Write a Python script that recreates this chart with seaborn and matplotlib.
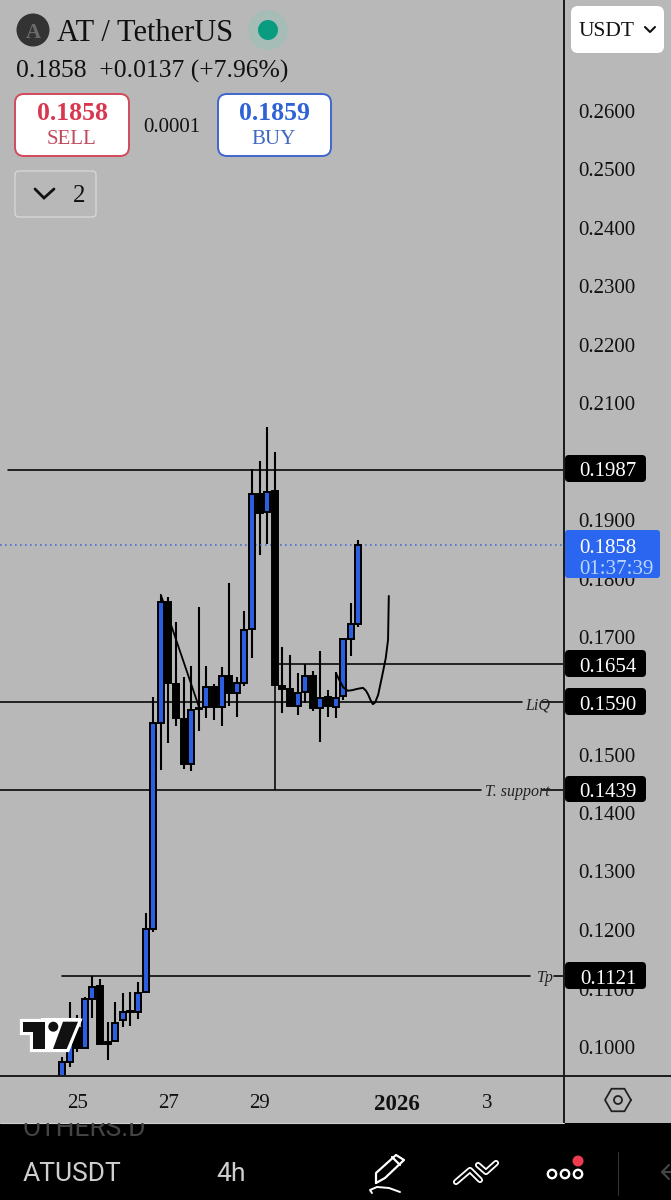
import numpy as np
import pandas as pd
import seaborn as sns
import matplotlib.pyplot as plt
from matplotlib.patches import FancyBboxPatch, Circle, Polygon, Rectangle

# 4h candles
opens = [.0940, .0974, .1032, .0998, .1082, .1104, .1009, .1010, .1046, .1060,
         .1060, .1094, .1202, .1554, .1761, .1621, .1561, .1484, .1579, .1581,
         .1615, .1581, .1634, .1605, .1622, .1715, .1945, .1915, .1950, .1617,
         .1612, .1583, .1607, .1634, .1579, .1598, .1581, .1600, .1697, .1723]
closes = [.0974, .1029, .0998, .1082, .1103, .1005, .1005, .1041, .1060, .1062,
          .1092, .1202, .1554, .1761, .1622, .1562, .1484, .1576, .1578, .1615,
          .1581, .1634, .1605, .1622, .1713, .1945, .1913, .1949, .1619, .1612,
          .1583, .1605, .1634, .1579, .1597, .1583, .1597, .1697, .1723, .1858]
highs = [.0983, .1077, .1055, .1085, .1121, .1116, .1043, .1077, .1092, .1094,
         .1111, .1229, .1598, .1773, .1769, .1726, .1632, .1651, .1752, .1651,
         .1621, .1650, .1793, .1632, .1745, .1988, .2002, .2060, .2017, .1684,
         .1670, .1639, .1655, .1643, .1677, .1610, .1641, .1697, .1759, .1867]
lows = [.0925, .0966, .0991, .0998, .1050, .1005, .0978, .1010, .1034, .1036,
        .1048, .1094, .1197, .1474, .1520, .1549, .1475, .1472, .1540, .1562,
        .1559, .1549, .1583, .1564, .1617, .1665, .1841, .1860, .1619, .1571,
        .1583, .1568, .1588, .1574, .1521, .1564, .1562, .1593, .1668, .1718]

# 0.1600 and 0.2000 sit behind the price labels, so the chart doesn't show them
price_ticks = [.10, .11, .12, .13, .14, .15, .17, .18, .19, .21, .22, .23, .24, .25, .26]
date_ticks = [2, 14, 26, 44, 56]
date_labels = ['25', '27', '29', '2026', '3']

# hand drawn lines on the chart
trend_x = [13.0, 18.0]
trend_y = [.1773, .1582]
curve_x = [36.05, 36.5, 37, 37.6, 38.2, 38.8, 39.6, 40.0, 40.3, 40.6, 40.9, 41.2, 41.6, 42.2, 42.6, 42.9, 43.0]
curve_y = [.1639, .1627, .1615, .1609, .1610, .1612, .1614, .1609, .1602, .1593, .1586, .1589, .1602, .1639, .1665, .1696, .1771]

BG = '#b8b8b8'
BLUE = '#2b5fe0'
SERIF = ['Liberation Serif', 'DejaVu Serif']

sns.set_theme(style='white', rc={'axes.facecolor': BG, 'figure.facecolor': BG})
plt.rcParams['font.family'] = SERIF

W, H = 671, 1200
fig = plt.figure(figsize=(W / 100, H / 100), dpi=100)
ax = fig.add_axes([0, (H - 1076) / H, 564 / W, 1076 / H])

df = pd.DataFrame({'bar': np.arange(len(opens)), 'open': opens, 'close': closes, 'high': highs, 'low': lows})
df['height'] = (df['close'] - df['open']).abs()
df['bottom'] = df[['open', 'close']].min(axis=1)
up = df[df['close'] >= df['open']]
down = df[df['close'] < df['open']]

ax.vlines(df['bar'], df['low'], df['high'], color='black', lw=1.5, zorder=1)
sns.barplot(data=up, x='bar', y='height', bottom=up['bottom'].values, native_scale=True, errorbar=None,
            color=BLUE, saturation=1, width=0.78, edgecolor='black', linewidth=1.4, zorder=3, ax=ax)
sns.barplot(data=down, x='bar', y='height', bottom=down['bottom'].values, native_scale=True, errorbar=None,
            color='black', saturation=1, width=0.78, edgecolor='black', linewidth=1.4, zorder=3, ax=ax)


def level(x0, x1, price, **kw):
    sns.lineplot(x=[x0, x1], y=[price, price], color=kw.pop('color', 'black'), lw=kw.pop('lw', 1.15),
                 estimator=None, sort=False, zorder=2, ax=ax, **kw)


level(-7.1, 66.1, .1987)
level(28.4, 66.1, .1654)
level(-8.2, 60.5, .1590)
level(63.2, 66.1, .1590)
level(-8.2, 55.1, .1439)
level(63.2, 66.1, .1439)
level(0.0, 61.6, .1121)
level(64.8, 66.1, .1121)
ax.plot([-8.2, 66.1], [.1858, .1858], color='#4a6fd0', lw=1.2, ls=(0, (1, 2)), zorder=2)
ax.vlines(28, .1439, .1619, color='black', lw=1.15, zorder=2)
sns.lineplot(x=trend_x, y=trend_y, color='black', lw=1.3, estimator=None, sort=False, zorder=4, ax=ax)
sns.lineplot(x=curve_x, y=curve_y, color='black', lw=1.4, estimator=None, sort=False, zorder=4, ax=ax)

ax.set_xlim(-62 / 7.6, (564 - 62) / 7.6)
ax.set_ylim(.1 - 29 / 5850, .1 + 1047 / 5850)
ax.yaxis.tick_right()
ax.set_yticks(price_ticks, [f'{p:.4f}' for p in price_ticks])
ax.set_xticks(date_ticks, date_labels)
ax.tick_params(axis='y', length=0, pad=10.5, labelsize=15, labelcolor='#111111')
ax.tick_params(axis='x', length=0, pad=13, labelsize=15, labelcolor='#111111')
ax.get_xticklabels()[3].set_fontweight('bold')
ax.get_xticklabels()[3].set_fontsize(16.5)
ax.set_xlabel('')
ax.set_ylabel('')
sns.despine(ax=ax, left=True, bottom=True, top=True, right=True)

# overlay in pixels for the app chrome
ui = fig.add_axes([0, 0, 1, 1], facecolor='none', zorder=5)
ui.set_xlim(0, W)
ui.set_ylim(H, 0)
ui.axis('off')


def box(x0, y0, x1, y1, fc, ec='none', lw=0, r=4):
    p = FancyBboxPatch((x0 + r, y0 + r), x1 - x0 - 2 * r, y1 - y0 - 2 * r, boxstyle=f'round,pad={r},rounding_size={r}',
                       fc=fc, ec=ec, lw=lw)
    ui.add_patch(p)
    return p


def disc(x, y, r, fc, **kw):
    kw.setdefault('ec', 'none')
    ui.add_patch(Circle((x, y), r, fc=fc, **kw))


def txt(x, y, s, size, color='#111111', ha='center', **kw):
    return ui.text(x, y, s, fontsize=size, color=color, ha=ha, va='center_baseline', **kw)


ui.plot([0, W], [1076, 1076], color='#1a1a1a', lw=1.4)
ui.plot([564, 564], [0, 1123], color='#1a1a1a', lw=1.4)

# header
disc(33, 30, 16.5, '#333333')
txt(33, 30, 'A', 15, color='#6b6b6b', fontweight='bold')
txt(57, 30, 'AT / TetherUS', 22, ha='left')
disc(268, 30, 20, '#a6bcb7')
disc(268, 30, 10, '#0a9c80')
txt(16, 69, '0.1858  +0.0137 (+7.96%)', 18.45, ha='left')
box(15, 94, 129, 156, 'white', '#d24a5c', 1.4, r=9)
txt(72, 111, '0.1858', 18.5, color='#d8384f', fontweight='bold')
txt(72, 137, 'SELL', 15, color='#c04a5e')
txt(172, 125, '0.0001', 15)
box(218, 94, 331, 156, 'white', '#3f66cc', 1.4, r=9)
txt(274, 111, '0.1859', 18.5, color='#2f62d6', fontweight='bold')
txt(274, 137, 'BUY', 15, color='#3f66c0')
box(15, 171, 96, 217, BG, '#d6d6d6', 1.0, r=4)
ui.plot([35, 44, 54], [189, 198, 189], color='#111111', lw=2, solid_capstyle='round', solid_joinstyle='miter')
txt(79, 193, '2', 18)

# currency button
box(571, 6, 664, 53, 'white', r=7)
txt(607, 29, 'USDT', 15.5)
ui.plot([645, 650, 655], [27, 32, 27], color='#111111', lw=1.5)

# price labels
for y0, y1, s in [(455, 482, '0.1987'), (650, 677, '0.1654'), (688, 715, '0.1590'),
                  (776, 802, '0.1439'), (962, 989, '0.1121')]:
    box(565, y0, 646, y1, 'black', r=4)
    txt(608, (y0 + y1) / 2 + 1, s, 15, color='white')
box(565, 530, 660, 578, '#2b66f0', r=3)
txt(608, 546, '0.1858', 15, color='white')
txt(616, 567, '01:37:39', 15, color='#b9d6ff')

txt(538, 703, 'LiQ', 11.5, fontstyle='italic', color='#222222')
txt(517, 790, 'T. support', 11.5, fontstyle='italic', color='#222222')
txt(545, 976, 'Tp', 11.5, fontstyle='italic', color='#222222')

# logo
t_logo = [(22.7, 1021.7), (45, 1021.7), (45, 1049), (33.3, 1049), (33.3, 1031.7), (22.7, 1031.7)]
s_logo = [(63, 1021.7), (78, 1021.7), (66.7, 1049), (53, 1049)]
for pts in (t_logo, s_logo):
    ui.add_patch(Polygon(pts, fc='white', ec='white', lw=4.5, joinstyle='miter'))
ui.add_patch(Polygon([(41, 1018), (81, 1018), (69, 1052), (41, 1052)], fc='white', ec='none'))
for pts in (t_logo, s_logo):
    ui.add_patch(Polygon(pts, fc='#111111', ec='none'))
disc(53.3, 1026.7, 5, '#111111')

# settings hexagon
hx = 618 + 13 * np.cos(np.radians(np.arange(0, 361, 60)))
hy = 1100 + 13 * np.sin(np.radians(np.arange(0, 361, 60)))
ui.plot(hx, hy, color='#222222', lw=1.3)
disc(618, 1100, 4, 'none', ec='#222222', lw=1.3)

# bottom bar
bar_rect = Rectangle((0, 1123), W, 77, fc='black', ec='none')
ui.add_patch(bar_rect)
ui.plot([0, 564], [1123, 1123], color='#d0d0d0', lw=0.8)
clip = ui.text(23, 1129, 'OTHERS.D', fontsize=19, color='#444444', family='Roboto', ha='left', va='center')
clip.set_clip_path(bar_rect)
clip.set_clip_on(True)
ui.text(23, 1174, 'ATUSDT', fontsize=19, color='#cfcfcf', family='Roboto', ha='left', va='center')
ui.text(216, 1174, '4h', fontsize=19, color='#cfcfcf', family='Roboto', ha='left', va='center')

# pencil
ui.plot([376, 376, 396, 404, 385, 376], [1183, 1173, 1155, 1160, 1178, 1183], color='white', lw=1.6)
ui.plot([392, 400], [1157, 1165], color='white', lw=1.6)
ui.plot([400, 389, 377, 370, 372], [1192, 1188, 1187, 1190, 1193], color='white', lw=1.4)
# double check
for xs, ys in [([456, 470, 480], [1182, 1170, 1180]), ([478, 486, 496], [1165, 1172, 1163])]:
    ui.plot(xs, ys, color='white', lw=4.4, solid_capstyle='round', solid_joinstyle='round')
    ui.plot(xs, ys, color='black', lw=1.8, solid_capstyle='round', solid_joinstyle='round')
# three dots
for cx in (552, 565, 578):
    disc(cx, 1174, 4.2, 'none', ec='white', lw=1.7)
disc(578, 1161, 5.5, '#ee3b4e')
ui.plot([617.5, 617.5], [1152, 1195], color='#333333', lw=0.8)
ui.plot([669, 662, 669], [1165, 1172, 1179], color='#444444', lw=1.6)
ui.plot([662, 671], [1172, 1172], color='#444444', lw=1.6)

fig.savefig('out.png', dpi=100, facecolor=BG)
